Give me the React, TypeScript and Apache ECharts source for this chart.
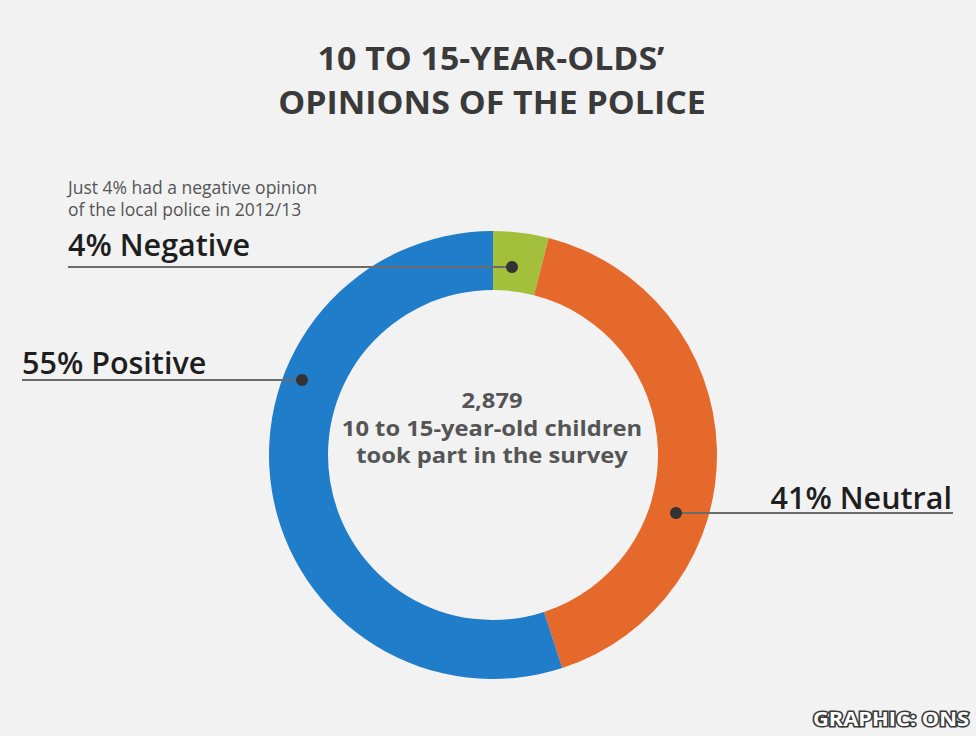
import React, { useEffect, useRef } from "react";
import * as echarts from "echarts";

const categories = ["Negative", "Neutral", "Positive"];
const values = [4, 41, 55];
const sliceColors = ["#a4bf3b", "#e6692c", "#1f7dca"];
const titleLines = ["10 TO 15-YEAR-OLDS\u2019", "OPINIONS OF THE POLICE"];
const noteLines = ["Just 4% had a negative opinion", "of the local police in 2012/13"];
const centerLines = ["2,879", "10 to 15-year-old children", "took part in the survey"];
const sourceText = "GRAPHIC: ONS";

const FONT = '"Open Sans", "Noto Sans", sans-serif';

export default function App() {
  const ref = useRef<HTMLDivElement>(null);
  useEffect(() => {
    if (!ref.current) return;
    const chart = echarts.init(ref.current, undefined, { renderer: "svg" });

    const label = (i: number) => `${values[i]}% ${categories[i]}`;
    const txt = (
      text: string,
      x: number,
      y: number,
      font: string,
      fill: string,
      align = "left",
      extra: any = {},
      scaleX = 1
    ) => ({
      type: "text",
      z: 100,
      x,
      y,
      scaleX,
      style: { text, x: 0, y: 0, font, fill, textAlign: align, textVerticalAlign: "middle", ...extra },
    });
    const hline = (x1: number, x2: number, y: number) => ({
      type: "line",
      z: 100,
      shape: { x1, y1: y, x2, y2: y },
      style: { stroke: "#6b6b6b", lineWidth: 2 },
    });
    const dot = (cx: number, cy: number) => ({
      type: "circle",
      z: 101,
      shape: { cx, cy, r: 6 },
      style: { fill: "#333333" },
    });

    chart.setOption({
      animation: false,
      backgroundColor: "#f2f2f2",
      series: [
        {
          type: "pie",
          center: [493, 455],
          radius: [165, 224],
          startAngle: 90,
          clockwise: true,
          label: { show: false },
          labelLine: { show: false },
          emphasis: { disabled: true },
          itemStyle: { borderWidth: 0 },
          data: categories.map((c, i) => ({
            name: c,
            value: values[i],
            itemStyle: { color: sliceColors[i] },
          })),
        },
      ],
      graphic: [
        txt(titleLines[0], 491, 58, `bold 32px ${FONT}`, "#3a3a3a", "center", {}, 1.06),
        txt(titleLines[1], 492, 102, `bold 32px ${FONT}`, "#3a3a3a", "center", {}, 1.06),
        txt(noteLines[0], 68, 187, `17.5px ${FONT}`, "#555555"),
        txt(noteLines[1], 68, 209, `17.5px ${FONT}`, "#555555"),
        txt(label(0), 68, 244, `600 30.5px ${FONT}`, "#1e1e1e"),
        txt(label(2), 22, 362, `600 30.5px ${FONT}`, "#1e1e1e"),
        txt(label(1), 952, 497, `600 30.5px ${FONT}`, "#1e1e1e", "right"),
        hline(68, 512, 267),
        hline(22, 302, 380),
        hline(676, 953, 513),
        dot(512, 267),
        dot(302, 380),
        dot(676, 513),
        txt(centerLines[0], 492, 400, `bold 22px ${FONT}`, "#555555", "center", {}, 1.08),
        txt(centerLines[1], 492, 428, `bold 22px ${FONT}`, "#555555", "center", {}, 1.08),
        txt(centerLines[2], 492, 455, `bold 22px ${FONT}`, "#555555", "center", {}, 1.08),
        txt(
          sourceText,
          969,
          719,
          `bold 19px ${FONT}`,
          "#ffffff",
          "right",
          { stroke: "#3a3a3a", lineWidth: 3 },
          1.15
        ),
      ],
    });
    return () => chart.dispose();
  }, []);
  return (
    <div
      ref={ref}
      style={{ position: "fixed", left: 0, top: 0, width: 976, height: 736, background: "#f2f2f2" }}
    />
  );
}
